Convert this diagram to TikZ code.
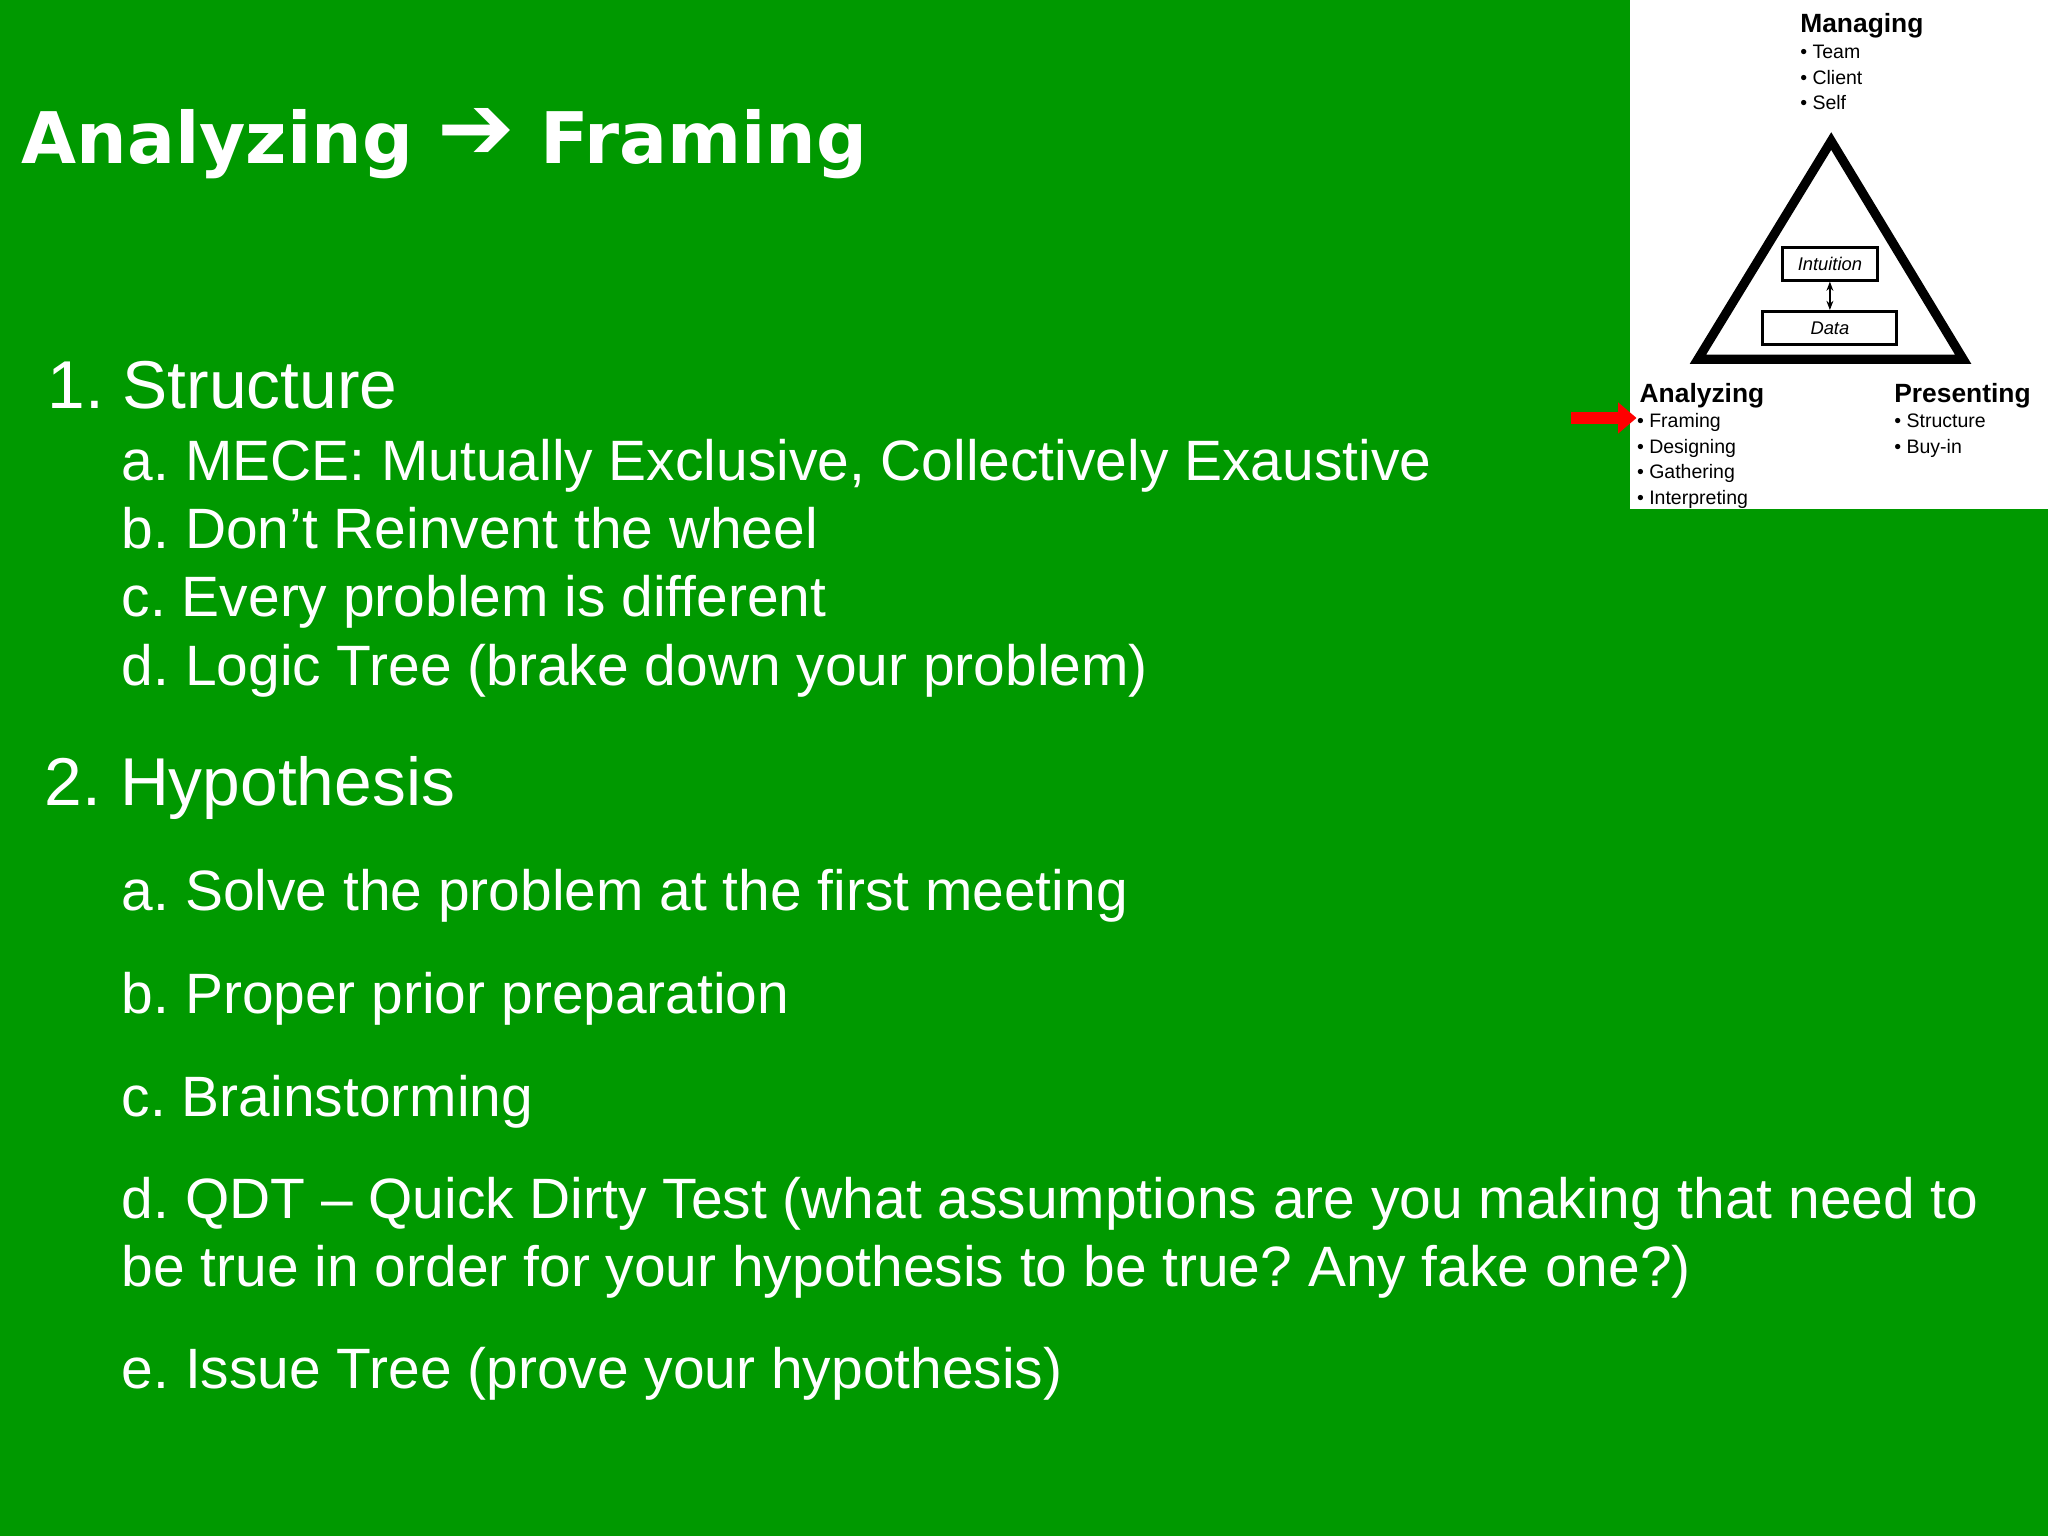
\documentclass[tikz,border=0pt]{standalone}
\usepackage{fontspec}
\setmainfont{Liberation Sans}
\newfontfamily\titlefont{DejaVu Sans}
\usetikzlibrary{arrows.meta}
\definecolor{bg}{HTML}{009900}
\tikzset{
  big/.style={anchor=base west,text=white,font=\fontsize{29.5}{34}\selectfont,inner sep=0},
  sub/.style={anchor=base west,text=white,font=\fontsize{24.8}{29}\selectfont,inner sep=0},
  ihead/.style={anchor=base west,font=\fontsize{11.5}{13}\selectfont\bfseries,inner sep=0},
  ibul/.style={anchor=base west,font=\fontsize{8.5}{10}\selectfont,inner sep=0},
  ibox/.style={draw,line width=1.3pt,font=\fontsize{8}{9}\selectfont\itshape,inner sep=0}
}
\frenchspacing
\begin{document}
\begin{tikzpicture}[x=0.02cm,y=-0.02cm]
\fill[bg] (0,0) rectangle (1568,1176);
\useasboundingbox (0,0) rectangle (1568,1176);
\node[anchor=base west,text=white,inner sep=0,font=\titlefont\bfseries\fontsize{31}{40}\selectfont] (title) at (16,125) {Analyzing \textbf{\raisebox{0.05em}{\scalebox{1.3}{➔}}} Framing};
\node[big] (s1) at (36,313) {1. Structure};
\node[sub] (a1) at (93,368) {a. MECE: Mutually Exclusive, Collectively Exaustive};
\node[sub] (b1) at (93,420) {b. Don’t Reinvent the wheel};
\node[sub] (c1) at (93,472) {c. Every problem is different};
\node[sub] (d1) at (93,525) {d. Logic Tree (brake down your problem)};
\node[big] (s2) at (34,617) {2. Hypothesis};
\node[sub] (a2) at (93,697) {a. Solve the problem at the first meeting};
\node[sub] (b2) at (93,776) {b. Proper prior preparation};
\node[sub] (c2) at (93,855) {c. Brainstorming};
\node[sub] (d2) at (93,933) {d. QDT -- Quick Dirty Test (what assumptions are you making that need to};
\node[sub] (d2b) at (93,985) {be true in order for your hypothesis to be true? Any fake one?)};
\node[sub] (e2) at (93,1063) {e. Issue Tree (prove your hypothesis)};
% inset
\fill[white] (1248,0) rectangle (1568,390);
\draw[line width=4pt,line join=miter] (1402,108) -- (1503,275) -- (1300,275) -- cycle;
\node[ibox,fill=white,text width=1.45cm,align=center,minimum height=0.5cm] (int) at (1401,202) {Intuition};
\node[ibox,text width=2.05cm,align=center,minimum height=0.5cm] (dat) at (1401,251) {Data};
\draw[{Stealth[length=4pt]}-{Stealth[length=4pt]},line width=1pt] (int.south) -- (dat.north);
\node[ihead] (man) at (1378,25) {Managing};
\node[ibul] at (1378,45) {\textbullet\ Team};
\node[ibul] at (1378,65) {\textbullet\ Client};
\node[ibul] at (1378,84) {\textbullet\ Self};
\node[ihead] (ana) at (1255,308) {Analyzing};
\node[ibul] (fr) at (1253,327) {\textbullet\ Framing};
\node[ibul] at (1253,347) {\textbullet\ Designing};
\node[ibul] at (1253,366) {\textbullet\ Gathering};
\node[ibul] at (1253,386) {\textbullet\ Interpreting};
\node[ihead] (pre) at (1450,308) {Presenting};
\node[ibul] at (1450,327) {\textbullet\ Structure};
\node[ibul] at (1450,347) {\textbullet\ Buy-in};
\coordinate (ra) at (1203,320);
\draw[red,line width=5pt,-{Triangle[length=8pt,width=13pt]}] (ra) -- (fr.west |- ra);
\end{tikzpicture}
\end{document}
